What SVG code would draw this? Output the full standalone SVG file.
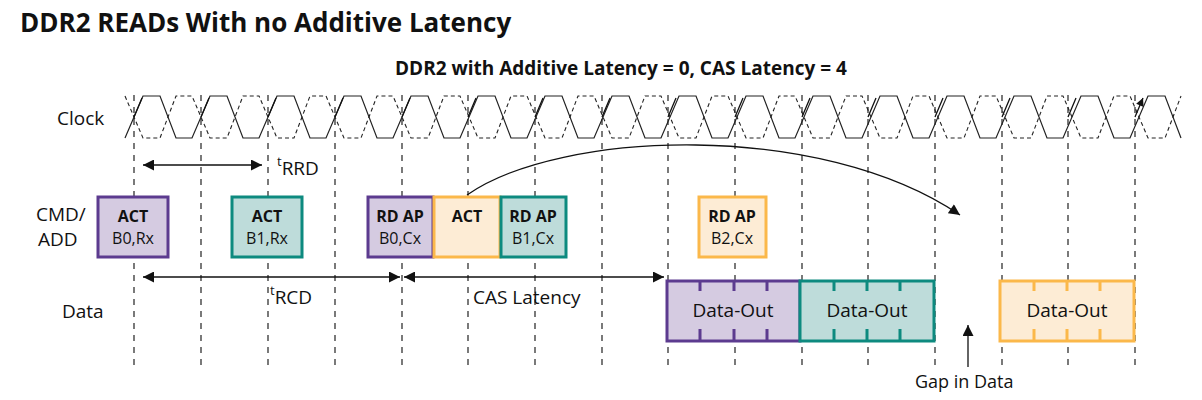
<svg xmlns="http://www.w3.org/2000/svg" width="1202" height="400" viewBox="0 0 1202 400">
<style>
text{font-family:"Open Sans","Liberation Sans",sans-serif;fill:#111}
.g{stroke:#222;stroke-width:1.2;stroke-dasharray:6,6;fill:none}
.p{fill:#d5cbe1;stroke:#5c3b8f;stroke-width:3}
.t{fill:#bedcda;stroke:#0d8a7f;stroke-width:3}
.o{fill:#fdecd5;stroke:#fbb84a;stroke-width:3}
.pt{stroke:#5c3b8f;stroke-width:3}.tt{stroke:#0d8a7f;stroke-width:3}.ot{stroke:#fbb84a;stroke-width:3}
.b{font-weight:bold;font-size:16px}
.s{font-size:16px}
.a{stroke:#111;stroke-width:1.3;fill:none}
</style>
<defs>
<marker id="ah" viewBox="0 0 10 10" refX="10" refY="5" markerWidth="12" markerHeight="8" markerUnits="userSpaceOnUse" orient="auto-start-reverse"><path d="M0,0L10,5L0,10z" fill="#111"/></marker>
<marker id="ahb" viewBox="0 0 10 10" refX="10" refY="5" markerWidth="18" markerHeight="11" markerUnits="userSpaceOnUse" orient="auto-start-reverse"><path d="M0,0L10,5L0,10z" fill="#111"/></marker>
</defs>
<text x="20" y="32" style="font-weight:bold;font-size:26px">DDR2 READs With no Additive Latency</text>
<text x="395" y="75" style="font-weight:bold;font-size:19px">DDR2 with Additive Latency = 0, CAS Latency = 4</text>
<text x="57" y="125" font-size="19">Clock</text>
<text x="36" y="221" font-size="19">CMD/</text>
<text x="38" y="246" font-size="19">ADD</text>
<text x="62" y="318" font-size="19">Data</text>
<g id="grid">
<path class="g" d="M134,95V370M201,95V370M268,95V370M335,95V370M402,95V370M468,95V370M535,95V370M602,95V370M668,95V370M735,95V370M802,95V370M868,95V370M935,95V370M1002,95V370M1068,95V370M1135,95V370"/>
</g>
<g id="clock">
<path fill="none" stroke="#222" stroke-width="1.2" d="M125,138L143,96L160,96L176,138L192,138L210,96L227,96L243,138L259,138L277,96L294,96L310,138L326,138L344,96L361,96L377,138L393,138L411,96L428,96L444,138L460,138L478,96L495,96L511,138L527,138L545,96L562,96L578,138L594,138L612,96L629,96L645,138L661,138L679,96L696,96L712,138L728,138L746,96L763,96L779,138L795,138L813,96L830,96L846,138L862,138L880,96L897,96L913,138L929,138L947,96L964,96L980,138L996,138L1014,96L1031,96L1047,138L1063,138L1081,96L1098,96L1114,138L1130,138L1148,96L1165,96L1181,138"/>
<path fill="none" stroke="#222" stroke-width="1.1" stroke-dasharray="4,3" d="M125,96L143,138L160,138L176,96L192,96L210,138L227,138L243,96L259,96L277,138L294,138L310,96L326,96L344,138L361,138L377,96L393,96L411,138L428,138L444,96L460,96L478,138L495,138L511,96L527,96L545,138L562,138L578,96L594,96L612,138L629,138L645,96L661,96L679,138L696,138L712,96L728,96L746,138L763,138L779,96L795,96L813,138L830,138L846,96L862,96L880,138L897,138L913,96L929,96L947,138L964,138L980,96L996,96L1014,138L1031,138L1047,96L1063,96L1081,138L1098,138L1114,96L1130,96L1148,138L1165,138L1181,96"/>
<path class="a" marker-end="url(#ah)" d="M134,117L142,98M201,117L209,98M268,117L276,98M335,117L343,98M402,117L410,98M468,117L476,98M535,117L543,98M602,117L610,98M668,117L676,98M735,117L743,98M802,117L810,98M868,117L876,98M935,117L943,98M1002,117L1010,98M1068,117L1076,98M1135,117L1143,98"/>
</g>
<g id="connectors">
<path class="a" marker-start="url(#ahb)" marker-end="url(#ahb)" d="M143,165H262"/>
<path class="a" marker-start="url(#ahb)" marker-end="url(#ahb)" d="M143,277H400"/>
<path class="a" marker-start="url(#ahb)" marker-end="url(#ahb)" d="M404,277H664"/>
<path class="a" marker-end="url(#ahb)" d="M467,195C560,130,820,120,960,215"/>
<path class="a" marker-end="url(#ahb)" d="M968,367V325"/>
</g>
<text x="277" y="175" font-size="19"><tspan font-size="13" dy="-9">t</tspan><tspan dy="9">RRD</tspan></text>
<text x="270" y="304" font-size="19"><tspan font-size="13" dy="-9">t</tspan><tspan dy="9">RCD</tspan></text>
<text x="473" y="304" font-size="19">CAS Latency</text>
<text x="915" y="388" font-size="18">Gap in Data</text>
<g id="act0"><rect class="p" x="98" y="197" width="70" height="60"/><text class="b" x="133" y="222" text-anchor="middle">ACT</text><text class="s" x="133" y="244" text-anchor="middle">B0,Rx</text></g>
<g id="act1"><rect class="t" x="232" y="197" width="70" height="60"/><text class="b" x="267" y="222" text-anchor="middle">ACT</text><text class="s" x="267" y="244" text-anchor="middle">B1,Rx</text></g>
<g id="rd0"><rect class="p" x="368" y="197" width="65" height="60"/><text class="b" x="400" y="222" text-anchor="middle">RD AP</text><text class="s" x="400" y="244" text-anchor="middle">B0,Cx</text></g>
<g id="act2"><rect class="o" x="434" y="197" width="66" height="60"/><text class="b" x="467" y="222" text-anchor="middle">ACT</text></g>
<g id="rd1"><rect class="t" x="501" y="197" width="65" height="60"/><text class="b" x="533" y="222" text-anchor="middle">RD AP</text><text class="s" x="533" y="244" text-anchor="middle">B1,Cx</text></g>
<g id="rd2"><rect class="o" x="699" y="197" width="67" height="60"/><text class="b" x="732" y="222" text-anchor="middle">RD AP</text><text class="s" x="732" y="244" text-anchor="middle">B2,Cx</text></g>
<g id="d0"><rect class="p" x="667" y="281" width="133" height="60"/><path class="pt" d="M700,281v10M734,281v10M767,281v10M700,341v-12M734,341v-12M767,341v-12"/><text x="733" y="317" font-size="19" text-anchor="middle">Data-Out</text></g>
<g id="d1"><rect class="t" x="800" y="281" width="134" height="60"/><path class="tt" d="M834,281v10M867,281v10M900,281v10M834,341v-12M867,341v-12M900,341v-12"/><text x="867" y="317" font-size="19" text-anchor="middle">Data-Out</text></g>
<g id="d2"><rect class="o" x="1000" y="281" width="134" height="60"/><path class="ot" d="M1034,281v10M1067,281v10M1100,281v10M1034,341v-12M1067,341v-12M1100,341v-12"/><text x="1067" y="317" font-size="19" text-anchor="middle">Data-Out</text></g>
</svg>
